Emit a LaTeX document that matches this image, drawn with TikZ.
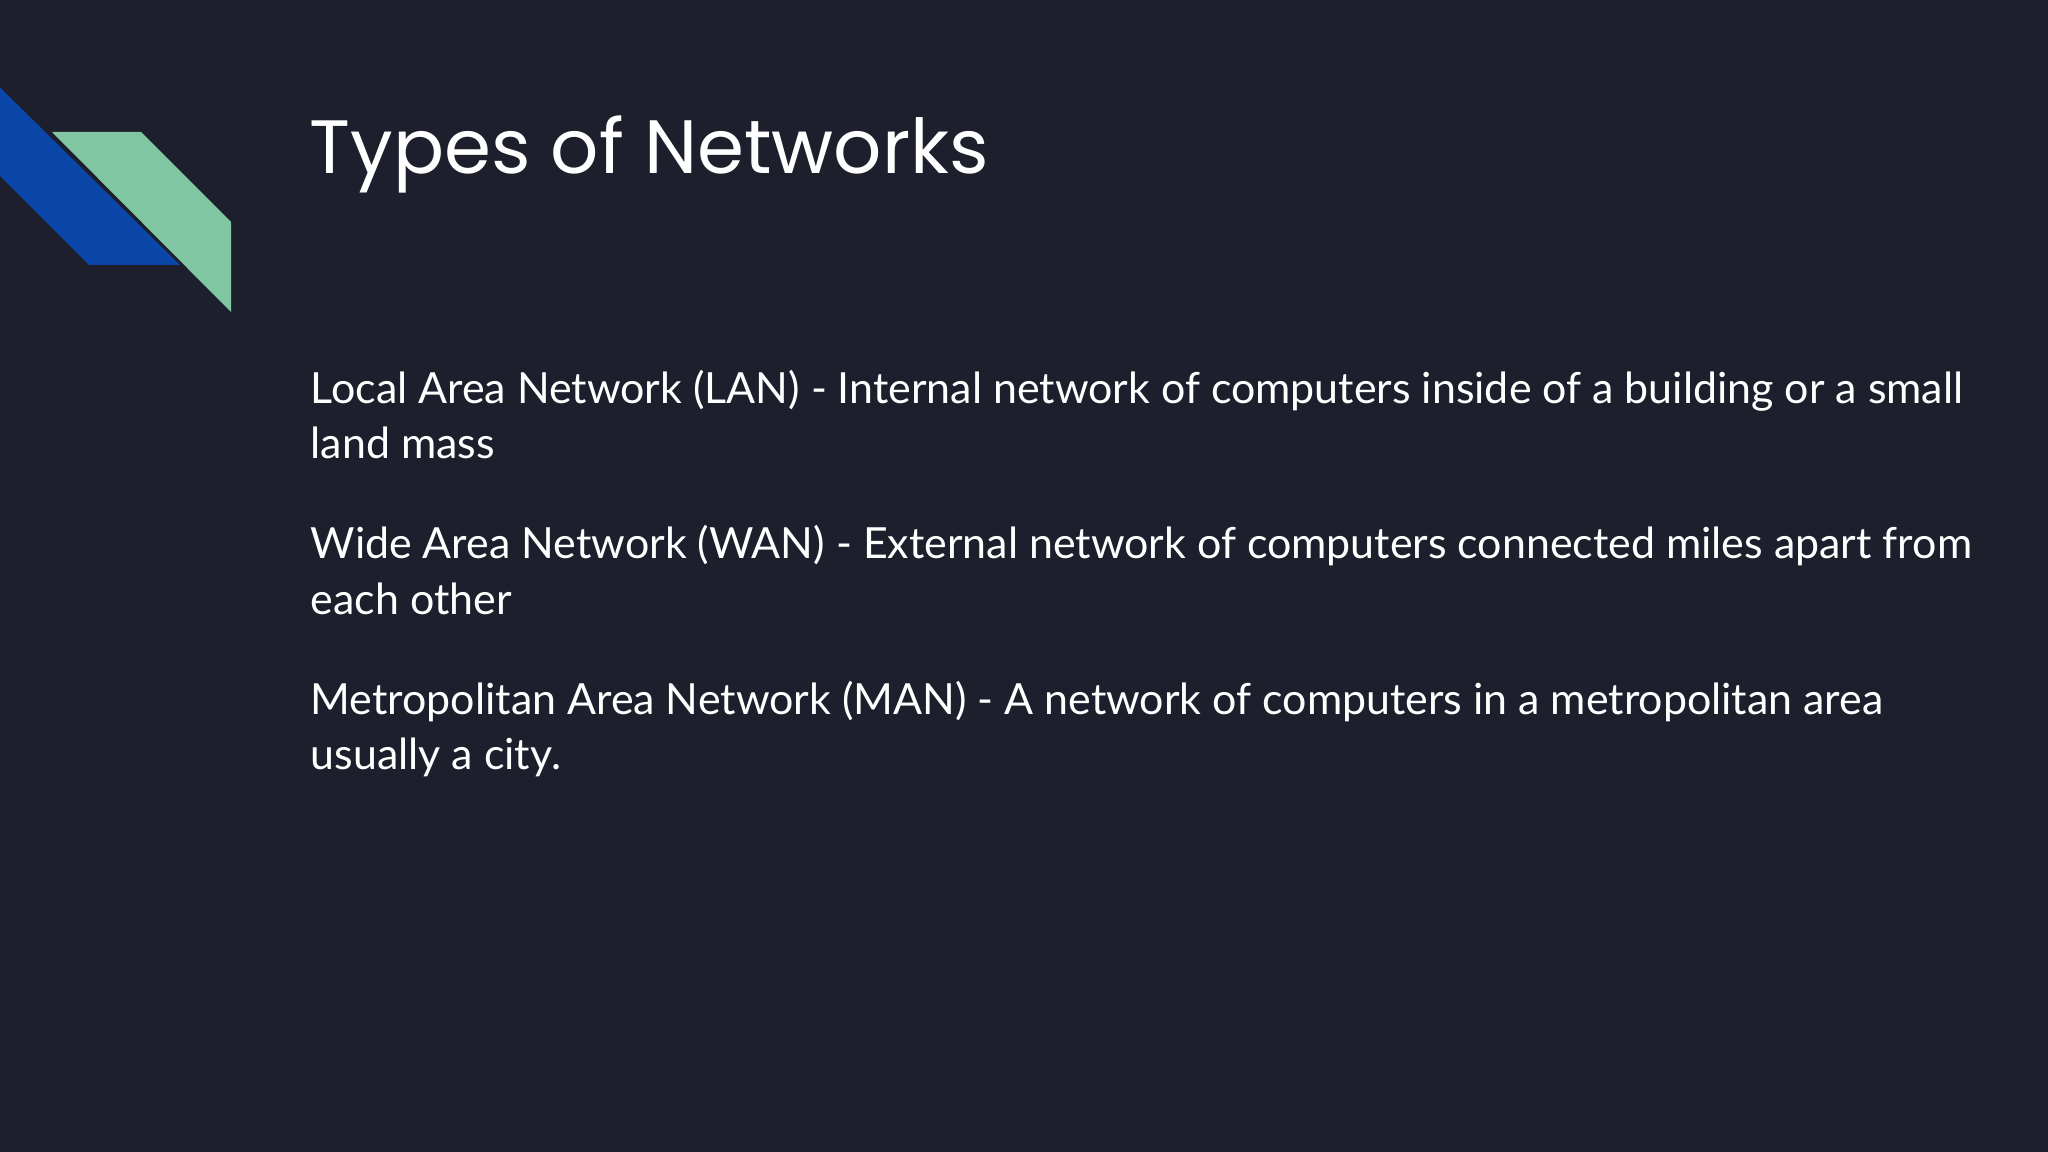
\documentclass[tikz,border=0pt]{standalone}
\usepackage{fontspec}
\setmainfont{Lato}
\newfontfamily\titlefont{Poppins}
\definecolor{bgc}{HTML}{1D202C}
\definecolor{blueband}{HTML}{0A47A9}
\definecolor{greenband}{HTML}{80C6A2}
\begin{document}
\begin{tikzpicture}[x=0.01cm,y=-0.01cm,
  body/.style={anchor=base west,inner sep=0pt,text=white,font=\fontsize{12.2}{15}\selectfont},
  ttl/.style={anchor=base west,inner sep=0pt,text=white,font=\titlefont\fontsize{21.5}{26}\selectfont}]
\fill[bgc] (0,0) rectangle (2048,1152);
\useasboundingbox (0,0) rectangle (2048,1152);
\fill[blueband] (0,87.5) -- (180,265) -- (89,265) -- (0,176) -- cycle;
\fill[greenband] (52,132) -- (141,132) -- (231,222) -- (231,312) -- cycle;
\node[ttl] (title) at (309,174) {Types of Networks};
\node[body] (l1) at (310,404) {Local Area Network (LAN) - Internal network of computers inside of a building or a small};
\node[body] (l2) at (310,459) {land mass};
\node[body] (w1) at (310,559) {Wide Area Network (WAN) - External network of computers connected miles apart from};
\node[body] (w2) at (310,614) {each other};
\node[body] (m1) at (310,715) {Metropolitan Area Network (MAN) - A network of computers in a metropolitan area};
\node[body] (m2) at (310,769) {usually a city.};
\end{tikzpicture}
\end{document}
